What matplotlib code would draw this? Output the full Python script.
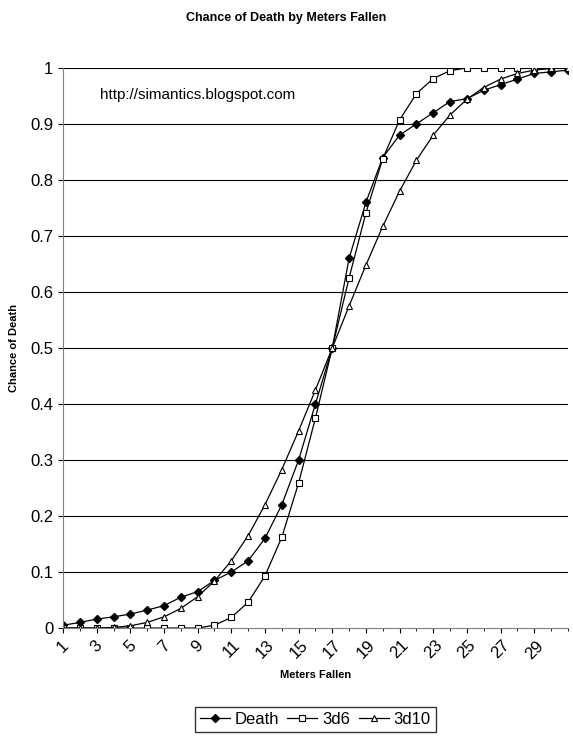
import matplotlib
matplotlib.use("Agg")
import matplotlib.pyplot as plt
from matplotlib.ticker import FixedLocator

plt.rcParams['font.family'] = ['Liberation Sans', 'DejaVu Sans']

meters = list(range(1, 32))
death = [0.005, 0.01, 0.016, 0.02, 0.025, 0.032, 0.04, 0.055, 0.065, 0.085,
         0.10, 0.12, 0.16, 0.22, 0.30, 0.40, 0.50, 0.66, 0.76, 0.84,
         0.88, 0.90, 0.92, 0.94, 0.945, 0.96, 0.97, 0.98, 0.99, 0.993, 0.996]
d3d6 = [0, 0, 0, 0, 0, 0, 0, 0, 0, 0.005,
        0.019, 0.046, 0.093, 0.162, 0.259, 0.375, 0.5, 0.625, 0.741, 0.838,
        0.907, 0.954, 0.981, 0.995, 1, 1, 1, 1, 1, 1, 1]
d3d10 = [0, 0, 0, 0.001, 0.004, 0.01, 0.02, 0.035, 0.056, 0.084,
         0.12, 0.165, 0.22, 0.283, 0.352, 0.425, 0.5, 0.575, 0.648, 0.717,
         0.78, 0.835, 0.88, 0.916, 0.944, 0.965, 0.98, 0.99, 0.996, 0.999, 1]
yticks = [0, 0.1, 0.2, 0.3, 0.4, 0.5, 0.6, 0.7, 0.8, 0.9, 1]
ylabels = ['0', '0.1', '0.2', '0.3', '0.4', '0.5', '0.6', '0.7', '0.8', '0.9', '1']

fig = plt.figure(figsize=(5.73, 7.38), dpi=100)
ax = fig.add_axes([0.11, 0.149, 0.881, 0.759])
for y in yticks[1:]:
    ax.axhline(y, color='black', lw=0.8, zorder=0)
ax.plot(meters, death, color='black', lw=0.9, marker='D', ms=4, mfc='black', label='Death')
ax.plot(meters, d3d6, color='black', lw=0.9, marker='s', ms=5, mfc='white', mew=0.8, label='3d6')
ax.plot(meters, d3d10, color='black', lw=0.9, marker='^', ms=5, mfc='white', mew=0.8, label='3d10')
ax.set_xlim(1, 31)
ax.set_ylim(0, 1)
ax.set_yticks(yticks)
ax.set_yticklabels(ylabels, fontsize=12)
ax.xaxis.set_major_locator(FixedLocator(list(range(1, 31, 2))))
ax.xaxis.set_minor_locator(FixedLocator(meters))
ax.set_xticklabels([str(m) for m in range(1, 31, 2)], rotation=45, fontsize=12)
ax.tick_params(axis='x', which='both', direction='out')
for s in ['top', 'right']:
    ax.spines[s].set_visible(False)
ax.spines['left'].set_color('#808080')
ax.spines['bottom'].set_color('#808080')
ax.set_xlabel('Meters Fallen', fontsize=8, fontweight='bold', labelpad=6)
ax.set_ylabel('Chance of Death', fontsize=8, fontweight='bold', labelpad=8)
fig.text(0.5, 0.975, 'Chance of Death by Meters Fallen', ha='center', va='center', fontsize=9, fontweight='bold')
ax.text(0.073, 0.952, 'http://simantics.blogspot.com', transform=ax.transAxes, fontsize=11, va='center')
fig.legend(loc='center', bbox_to_anchor=(0.55, 0.025), ncol=3, fontsize=12, frameon=True,
           fancybox=False, edgecolor='black', handlelength=1.8, handletextpad=0.3,
           columnspacing=0.5, borderpad=0.3)
fig.savefig('out.png', dpi=100)
